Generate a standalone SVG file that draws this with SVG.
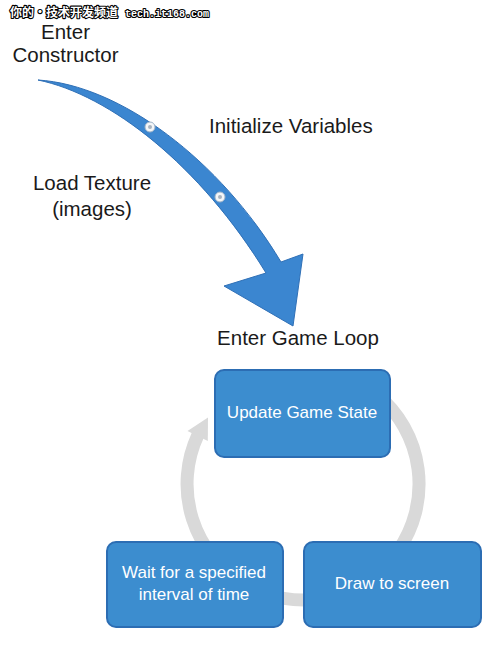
<svg xmlns="http://www.w3.org/2000/svg" width="500" height="659" viewBox="0 0 500 659">
<style>
.lbl{font-family:"Liberation Sans",Arial,sans-serif;font-size:20.5px;fill:#1a1a1a}
.box rect{fill:#3c8dcf;stroke:#2c6db3;stroke-width:2}
.box text{font-family:"Liberation Sans",Arial,sans-serif;font-size:17px;fill:#ffffff;text-anchor:middle}
.wm{font-family:"Noto Sans CJK SC","Liberation Mono",monospace;font-size:12px;font-weight:bold;fill:#ffffff;stroke:#000000;stroke-width:2.2;paint-order:stroke;stroke-linejoin:round}
.dot{fill:#f4f6f8;stroke:#9fb3c8;stroke-width:1}
</style>
<rect width="500" height="659" fill="#ffffff"/>
<text class="wm" x="10" y="16.5">你的·技术开发频道<tspan x="125" font-family="'Liberation Mono',monospace" font-size="10px">tech.it168.com</tspan></text>

<g id="enter-constructor">
<text class="lbl" x="65.5" y="39" text-anchor="middle" font-size="22px">Enter</text>
<text class="lbl" x="65.5" y="62" text-anchor="middle" font-size="22px">Constructor</text>
</g>

<g id="connectors">
<path id="big-arrow" d="M38 80 C120 85 220 160 281 262 L303 254 L293 326 L224 286 L266 273 C200 165 110 95 38 80 Z" fill="#3b86d0" stroke="#3070b6" stroke-width="1"/>
<circle class="dot" cx="150" cy="127" r="5"/><circle cx="150" cy="127" r="2" fill="#a9b4c0"/>
<circle class="dot" cx="220" cy="197" r="5"/><circle cx="220" cy="197" r="2" fill="#a9b4c0"/>
<path d="M377.6 395.1 A116 116 0 1 1 197.9 435" fill="none" stroke="#d9d9d9" stroke-width="13"/>
<polygon points="208,417.5 207.8,441 187.5,431" fill="#d9d9d9"/>
</g>

<g id="initialize-variables"><text class="lbl" x="209" y="133">Initialize Variables</text></g>
<g id="load-texture">
<text class="lbl" x="92" y="190" text-anchor="middle">Load Texture</text>
<text class="lbl" x="92" y="216" text-anchor="middle">(images)</text>
</g>
<g id="enter-game-loop"><text class="lbl" x="298" y="345" text-anchor="middle">Enter Game Loop</text></g>

<g id="update-game-state" class="box">
<rect x="215" y="370" width="175" height="87" rx="9"/>
<text x="302" y="418">Update Game State</text>
</g>
<g id="wait" class="box">
<rect x="107" y="542" width="176" height="85" rx="9"/>
<text x="194" y="578">Wait for a specified</text>
<text x="194" y="600">interval of time</text>
</g>
<g id="draw-to-screen" class="box">
<rect x="304" y="542" width="177" height="85" rx="9"/>
<text x="392" y="589">Draw to screen</text>
</g>
</svg>
